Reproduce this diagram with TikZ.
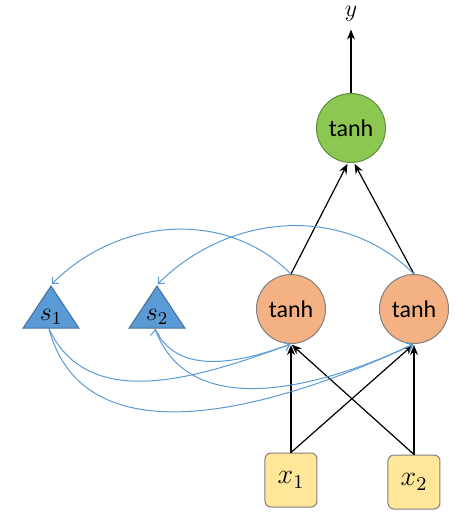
\documentclass[tikz,border=0pt]{standalone}
\usepackage{fix-cm}
\usepackage{fontspec}
\newfontfamily\calibri{Carlito}
\usetikzlibrary{arrows.meta,positioning,shapes.geometric}
\definecolor{outfill}{HTML}{8CC751}
\definecolor{outline}{HTML}{5E8E3E}
\definecolor{hidfill}{HTML}{F4B183}
\definecolor{memfill}{HTML}{5B9BD5}
\definecolor{memline}{HTML}{41719C}
\definecolor{infill}{HTML}{FFE699}
\definecolor{recline}{HTML}{5B9BD5}

\begin{document}
\begin{tikzpicture}[shorten >=0.5pt,node distance=60pt,on grid,auto,
    neuron/.style={circle,draw=gray,line width=0.5pt,minimum size=34.5pt,inner sep=0pt,
      font=\calibri\fontsize{12}{14}\selectfont},
    memory/.style={isosceles triangle,shape border rotate=90,isosceles triangle stretches,
      minimum width=28pt,minimum height=19pt,inner sep=0pt,fill=memfill,draw=memline,
      line width=0.5pt,font=\fontsize{13}{15}\selectfont},
    input/.style={rectangle,rounded corners=3pt,fill=infill,draw=gray,line width=0.5pt,
      minimum width=26pt,minimum height=27pt,font=\fontsize{14}{16}\selectfont},
    feed/.style={-{Stealth[length=5pt,width=4pt]},line width=0.6pt},
    recur/.style={-{Straight Barb[length=2.5pt,width=4.5pt]},draw=recline,line width=0.5pt}]
    \useasboundingbox (0,0) rectangle (237pt,-258pt);
    \node[neuron,fill=outfill,draw=outline] (out) at (175.5pt,-64pt) {tanh};
    \node[neuron,fill=hidfill] (h1) [below left=90.5pt and 30pt of out] {tanh};
    \node[neuron,fill=hidfill] (h2) [right=61.5pt of h1] {tanh};
    \node[memory] (s2) [below left=4pt and 67pt of h1] {$s_2$};
    \node[memory] (s1) [left=53pt of s2] {$s_1$};
    \node[input] (x1) [below=85.5pt of h1] {$x_1$};
    \node[input] (x2) [below=86.5pt of h2] {$x_2$};
    \node[font=\fontsize{12}{14}\selectfont] (y) [above=57pt of out] {$y$};
    \path[feed]
    (x1.north) edge (h1.south)
    edge (h2.south)
    (x2.north) edge (h1.south)
    edge (h2.south)
    (h1.north) edge (out.265)
    (h2.north) edge (out.275)
    (out.north) edge (y.south)
    ;
    \path[recur]
    (h1.north) edge [out=135,in=45] (s1.apex)
    (h2.north) edge [out=135,in=45] (s2.apex)
    (s1.-100) edge [out=-65,in=200] (h1.south)
    edge [out=-75,in=205] (h2.south)
    (s2.-100) edge [out=-65,in=200] (h1.south)
    edge [out=-70,in=205] (h2.south)
    ;
  \end{tikzpicture}
\end{document}
